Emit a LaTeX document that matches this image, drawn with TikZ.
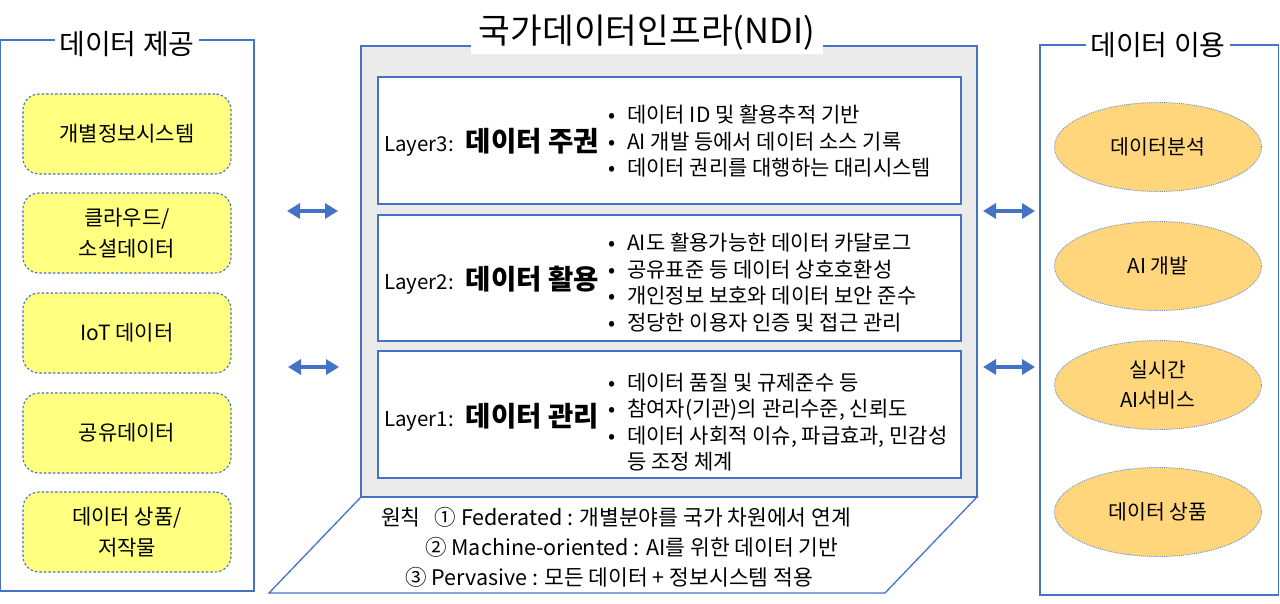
\documentclass[tikz,border=0pt]{standalone}
\usepackage{fontspec}
\setmainfont{Noto Sans CJK KR}
\usetikzlibrary{arrows.meta,shapes.geometric}
\definecolor{frameblue}{HTML}{4472C4}
\definecolor{yellowfill}{HTML}{FFFF80}
\definecolor{orangefill}{HTML}{FFD67C}
\definecolor{grayfill}{HTML}{EBEBEB}
\tikzset{
  frame/.style={draw=frameblue, line width=1.3pt},
  titlelbl/.style={fill=white, inner sep=4pt, font=\fontsize{28}{32}\selectfont},
  srcbox/.style={draw=frameblue, line width=1.1pt, dash pattern=on 2.5pt off 2pt,
    fill=yellowfill, rounded corners=16pt, minimum width=208pt, minimum height=80pt,
    align=center, font=\fontsize{21}{31}\selectfont, inner sep=0pt},
  usebox/.style={ellipse, draw=frameblue!80, line width=0.9pt, densely dotted,
    fill=orangefill, minimum width=207pt, minimum height=89pt,
    align=center, font=\fontsize{20.5}{30}\selectfont, inner sep=0pt},
  layerbox/.style={draw=frameblue, line width=1.3pt, fill=white},
  layerlbl/.style={anchor=west, inner sep=0pt, font=\fontsize{20.5}{24}\selectfont},
  layertxt/.style={anchor=west, inner sep=0pt, align=left, font=\fontsize{21}{26.5}\selectfont},
  princ/.style={anchor=west, inner sep=0pt, font=\fontsize{21.5}{25}\selectfont},
  dblarrow/.style={{Triangle[length=13pt,width=15pt]}-{Triangle[length=13pt,width=15pt]},
    draw=frameblue, fill=frameblue, line width=4.5pt},
}
\newcommand{\bl}{\makebox[19pt][l]{•}}
\begin{document}
\begin{tikzpicture}[x=1pt,y=-1pt]
\useasboundingbox (0,0) rectangle (1280,603);
% left frame
\draw[frame] (0.6,40) rectangle (254,591);
\node[titlelbl] (provT) at (127,44) {데이터 제공};
\node[srcbox] (s1) at (127,134) {개별정보시스템};
\node[srcbox] (s2) at (127,233) {클라우드/\\소셜데이터};
\node[srcbox] (s3) at (127,333) {IoT 데이터};
\node[srcbox] (s4) at (127,433) {공유데이터};
\node[srcbox] (s5) at (127,532) {데이터 상품/\\저작물};
% right frame
\draw[frame] (1040,45) rectangle (1278.5,595);
\node[titlelbl] (useT) at (1158,45) {데이터 이용};
\node[usebox] (u1) at (1158,147) {데이터분석};
\node[usebox] (u2) at (1158,266) {AI 개발};
\node[usebox] (u3) at (1158,385) {실시간\\AI서비스};
\node[usebox] (u4) at (1158,512) {데이터 상품};
% principle parallelogram
\draw[frame, fill=white] (361,497) -- (977,497) -- (885,593) -- (269,593) -- cycle;
\node[princ] (p1) at (381,517) {원칙\hspace{14pt}① Federated : 개별분야를 국가 차원에서 연계};
\node[princ] (p2) at (425,547) {② Machine-oriented : AI를 위한 데이터 기반};
\node[princ] (p3) at (405,577) {③ Pervasive : 모든 데이터 + 정보시스템 적용};
% central NDI box
\draw[frame, fill=grayfill] (361,46) rectangle (977,497);
\node[fill=white, inner xsep=8pt, inner ysep=3pt, font=\fontsize{34.5}{38}\selectfont] (ndiT) at (647,33) {국가데이터인프라(NDI)};
% layers
\draw[layerbox] (378,77) rectangle (961,204);
\node[layerlbl] (l3) at (384,142) {Layer3:\hspace{12pt}{\bfseries\fontsize{27.5}{30}\selectfont 데이터 주권}};
\node[layertxt] (t3) at (608,141.5) {\bl 데이터 ID 및 활용추적 기반\\\bl AI 개발 등에서 데이터 소스 기록\\\bl 데이터 권리를 대행하는 대리시스템};
\draw[layerbox] (378,215) rectangle (961,341);
\node[layerlbl] (l2) at (384,280) {Layer2:\hspace{12pt}{\bfseries\fontsize{27.5}{30}\selectfont 데이터 활용}};
\node[layertxt] (t2) at (608,282.5) {\bl AI도 활용가능한 데이터 카달로그\\\bl 공유표준 등 데이터 상호호환성\\\bl 개인정보 보호와 데이터 보안 준수\\\bl 정당한 이용자 인증 및 접근 관리};
\draw[layerbox] (378,351) rectangle (961,478);
\node[layerlbl] (l1) at (384,417) {Layer1:\hspace{12pt}{\bfseries\fontsize{27.5}{30}\selectfont 데이터 관리}};
\node[layertxt] (t1) at (608,422) {\bl 데이터 품질 및 규제준수 등\\\bl 참여자(기관)의 관리수준, 신뢰도\\\bl 데이터 사회적 이슈, 파급효과, 민감성\\\makebox[19pt][l]{}등 조정 체계};
% arrows
\coordinate (aL1) at (287,211);
\coordinate (aR1) at (338,211);
\coordinate (aL2) at (288,367);
\coordinate (aR2) at (339,367);
\coordinate (bL1) at (983,211);
\coordinate (bR1) at (1035,211);
\coordinate (bL2) at (983,367);
\coordinate (bR2) at (1035,367);
\draw[dblarrow] (aL1) -- (aR1);
\draw[dblarrow] (aL2) -- (aR2);
\draw[dblarrow] (bL1) -- (bR1);
\draw[dblarrow] (bL2) -- (bR2);
\end{tikzpicture}
\end{document}
